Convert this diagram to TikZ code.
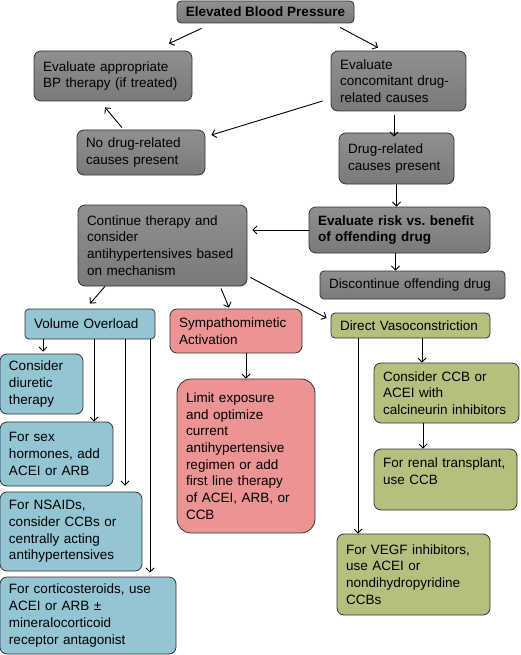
\documentclass[tikz,border=0pt]{standalone}
\usepackage{fontspec}
\setmainfont{Liberation Sans}
\usetikzlibrary{arrows.meta}

\newcommand{\boxfont}{\fontsize{13.5}{16.7}\selectfont}

\definecolor{grayfill}{HTML}{8A8A8A}
\definecolor{bluefill}{HTML}{93C5D3}
\definecolor{redfill}{HTML}{EC9494}
\definecolor{greenfill}{HTML}{B3C07E}

\tikzset{
    flowbox/.style={draw=black!80, line width=0.8pt, rounded corners=7pt,
        align=left, font=\boxfont, inner xsep=9pt, inner ysep=3pt},
    graybox/.style={flowbox, top color=grayfill!95!white, bottom color=grayfill!88!black},
    bluebox/.style={flowbox, fill=bluefill},
    redbox/.style={flowbox, fill=redfill},
    greenbox/.style={flowbox, fill=greenfill},
    arr/.style={-{Straight Barb[length=4pt,width=8pt]}, line width=0.9pt}
}

\begin{document}
\begin{tikzpicture}[x=1pt, y=-1pt]
    \useasboundingbox (0,0) rectangle (520,655);

    % top part
    \node[graybox, minimum width=177pt, minimum height=22pt, inner xsep=2pt, align=center,
          rounded corners=4pt, font=\boxfont\bfseries] (top) at (265.5,12) {Elevated Blood Pressure};
    \node[graybox, text width=140pt, minimum height=50pt] (evalbp) at (113,76)
        {Evaluate appropriate\\BP therapy (if treated)};
    \node[graybox, text width=117pt, minimum height=60pt] (evalcon) at (398.5,81)
        {Evaluate\\concomitant drug-\\related causes};
    \node[graybox, text width=110pt, minimum height=45pt] (nodrug) at (141,152.5)
        {No drug-related\\causes present};
    \node[graybox, text width=97pt, minimum height=51pt] (drugrel) at (396.5,158.5)
        {Drug-related\\causes present};

    % middle part
    \node[graybox, text width=151pt, minimum height=81pt] (cont) at (162.5,245.5)
        {Continue therapy and\\consider\\antihypertensives based\\on mechanism};
    \node[graybox, text width=163pt, minimum height=46pt, font=\boxfont\bfseries] (risk) at (399.5,230)
        {Evaluate risk vs.\ benefit\\of offending drug};
    \node[graybox, text width=167pt, minimum height=28pt, rounded corners=4pt] (disc) at (412.5,285)
        {Discontinue offending drug};

    % mechanisms
    \node[bluebox, text width=112pt, minimum height=30pt, rounded corners=4pt] (vol) at (90,324)
        {Volume Overload};
    \node[redbox, text width=114pt, minimum height=44pt] (symp) at (236,331)
        {Sympathomimetic\\Activation};
    \node[greenbox, text width=141pt, minimum height=25pt, rounded corners=4pt] (dv) at (410.5,325.5)
        {Direct Vasoconstriction};

    % volume overload
    \node[bluebox, text width=65pt, minimum height=60pt] (diur) at (41.5,384)
        {Consider\\diuretic\\therapy};
    \node[bluebox, text width=95pt, minimum height=64pt] (sex) at (56.5,454)
        {For sex\\hormones, add\\ACEI or ARB};
    \node[bluebox, text width=124pt, minimum height=79pt] (nsaid) at (71,531.5)
        {For NSAIDs,\\consider CCBs or\\centrally acting\\antihypertensives};
    \node[bluebox, text width=158pt, minimum height=77pt] (cort) at (88,615.5)
        {For corticosteroids, use\\ACEI or ARB ±\\mineralocorticoid\\receptor antagonist};

    % sympathomimetic
    \node[redbox, text width=120pt, minimum height=154pt, rounded corners=14pt] (limit) at (246,456)
        {Limit exposure\\and optimize\\current\\antihypertensive\\regimen or add\\first line therapy\\of ACEI, ARB, or\\CCB};

    % vasoconstriction
    \node[greenbox, text width=127pt, minimum height=60pt] (ccb) at (446.5,393)
        {Consider CCB or\\ACEI with\\calcineurin inhibitors};
    \node[greenbox, text width=125pt, minimum height=61pt] (renal) at (445.5,479.5)
        {For renal transplant,\\use CCB\\\mbox{}};
    \node[greenbox, text width=135pt, minimum height=81pt] (vegf) at (413.5,574.5)
        {For VEGF inhibitors,\\use ACEI or\\nondihydropyridine\\CCBs};

    % arrows
    \draw[arr] ([xshift=-64pt,yshift=-5pt]top.south) -- ([xshift=56pt,yshift=7pt]evalbp.north);
    \draw[arr] ([xshift=74.5pt,yshift=-4pt]top.south) -- ([xshift=-20.5pt,yshift=3pt]evalcon.north);
    \draw[arr] ([xshift=-8pt,yshift=-20pt]evalcon.west) -- ([xshift=6pt,yshift=17.5pt]nodrug.east);
    \draw[arr] ([xshift=-19pt,yshift=2pt]nodrug.north) -- ([xshift=-8pt,yshift=-6pt]evalbp.south);
    \draw[arr] ([xshift=-4.5pt,yshift=-4pt]evalcon.south) -- ([xshift=-4.5pt,yshift=-4pt]evalcon.south |- drugrel.north);
    \draw[arr] (drugrel.south) -- (drugrel.south |- risk.north);
    \draw[arr] (risk.west) -- ([xshift=5pt]risk.west -| cont.east);
    \draw[arr] ([xshift=-4pt]risk.south) -- ([xshift=-4pt]risk.south |- disc.north);
    \draw[arr] ([xshift=-57.5pt]cont.south) -- ([yshift=5pt]vol.north);
    \draw[arr] ([xshift=58.5pt,yshift=-2pt]cont.south) -- ([xshift=-7pt,yshift=1pt]symp.north);
    \draw[arr] ([xshift=3pt,yshift=9pt]cont.south east) -- ([xshift=-4pt,yshift=7.5pt]dv.west);

    \draw[arr, shorten >=2pt] ([xshift=-47pt]vol.south) -- ([xshift=-47pt]vol.south |- diur.north);
    \draw[arr] ([xshift=4pt]vol.south) -- ([xshift=4pt]vol.south |- sex.north);
    \draw[arr, shorten >=6pt] ([xshift=35pt]vol.south) -- ([xshift=35pt]vol.south |- nsaid.north);
    \draw[arr, shorten >=4pt] ([xshift=60pt]vol.south) -- ([xshift=60pt]vol.south |- cort.north);

    \draw[arr] ([xshift=10pt]symp.south) -- ([xshift=10pt]symp.south |- limit.north);

    \draw[arr] ([xshift=11.5pt]dv.south) -- ([xshift=11.5pt]dv.south |- ccb.north);
    \draw[arr] ([xshift=-23.5pt]ccb.south) -- ([xshift=-23.5pt]ccb.south |- renal.north);
    \draw[arr] ([xshift=-52.5pt]dv.south) -- ([xshift=-52.5pt]dv.south |- vegf.north);
\end{tikzpicture}
\end{document}
